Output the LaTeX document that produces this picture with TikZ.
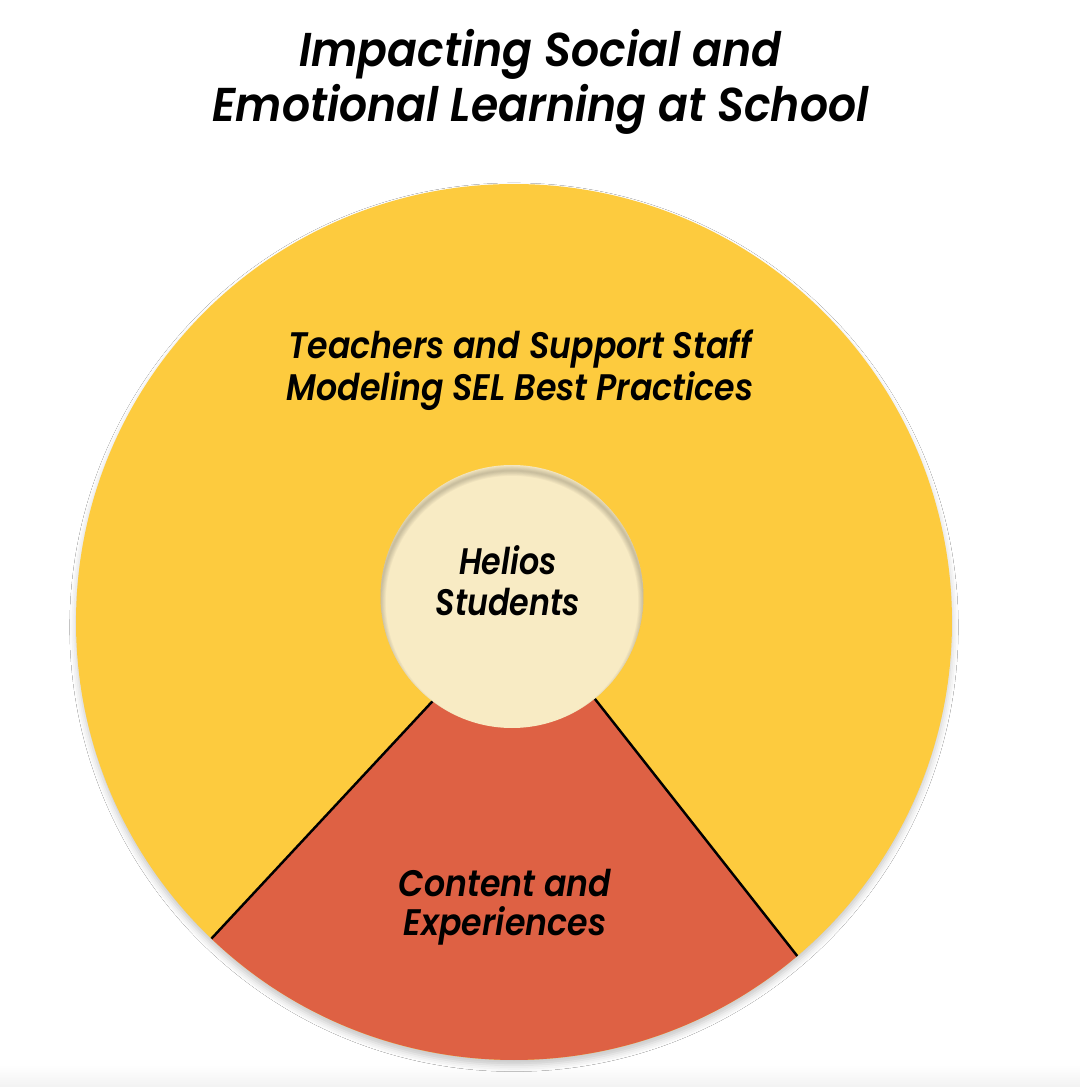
\documentclass[tikz,border=0pt]{standalone}
\usepackage{fontspec}
\setmainfont{Poppins}
\newfontfamily\titlefont{Poppins SemiBold Italic}[FakeStretch=0.93]
\newfontfamily\bodyfont{Poppins SemiBold Italic}[FakeStretch=0.9]
\newfontfamily\helfont{Poppins SemiBold Italic}[FakeStretch=0.86]
\usetikzlibrary{shadows.blur}
\definecolor{selyellow}{HTML}{FDCB3E}
\definecolor{selred}{HTML}{DE6144}
\definecolor{selcream}{HTML}{F8EBC4}
\tikzset{
  titletext/.style={font=\fontsize{13.5}{16}\titlefont, inner sep=0pt, anchor=base},
  bodytext/.style={font=\fontsize{10.5}{12}\bodyfont, inner sep=0pt, anchor=base},
  heltext/.style={font=\fontsize{10.5}{12}\helfont, inner sep=0pt, anchor=base},
  divider/.style={line width=0.7pt, black}
}
\begin{document}
\begin{tikzpicture}
\useasboundingbox (0,0) rectangle (10.8,10.87);
\fill[white] (0,0) rectangle (10.8,10.87);
\shade[top color=white, bottom color=black!5] (0,0) rectangle (10.8,0.22);
% outer disc
\node[circle, minimum size=8.76cm, inner sep=0pt, fill=selyellow,
  blur shadow={shadow xshift=0pt, shadow yshift=-1.5pt, shadow blur radius=1.8pt, shadow opacity=22}] (outer) at (5.14,4.65) {};
\coordinate (c) at (5.12,4.905);
\path (outer.center) ++(226.3:4.38) coordinate (Lo);
\path (outer.center) ++(310.3:4.38) coordinate (Ro);
\path (c) ++(232.8:1.315) coordinate (Li);
\path (c) ++(309:1.315) coordinate (Ri);
% red sector
\fill[selred] (Li) -- (Lo) arc[start angle=226.3, end angle=310.3, radius=4.38cm] -- (Ri) -- cycle;
\draw[divider] (Li) -- (Lo);
\draw[divider] (Ri) -- (Ro);
% inner disc
\node[circle, minimum size=2.63cm, inner sep=0pt, fill=selcream] (inner) at (c) {};
\begin{scope}
  \clip (c) circle (1.315);
  \foreach \w in {1,...,6}
    \draw[line width=\w*0.5pt, black, opacity=0.03] ([yshift=-1.6pt]c) circle (1.315);
\end{scope}
% texts
\node[titletext] (t1) at (5.405,10.21) {Impacting Social and};
\node[titletext] (t2) at (5.405,9.65) {Emotional Learning at School};
\node[bodytext] (s1) at (5.2,7.29) {Teachers and Support Staff};
\node[bodytext] (s2) at (5.2,6.87) {Modeling SEL Best Practices};
\node[heltext] (h1) at (5.08,5.12) {Helios};
\node[heltext] (h2) at (5.08,4.72) {Students};
\node[bodytext] (c1) at (5.05,1.91) {Content and};
\node[bodytext] (c2) at (5.05,1.51) {Experiences};
\end{tikzpicture}
\end{document}
